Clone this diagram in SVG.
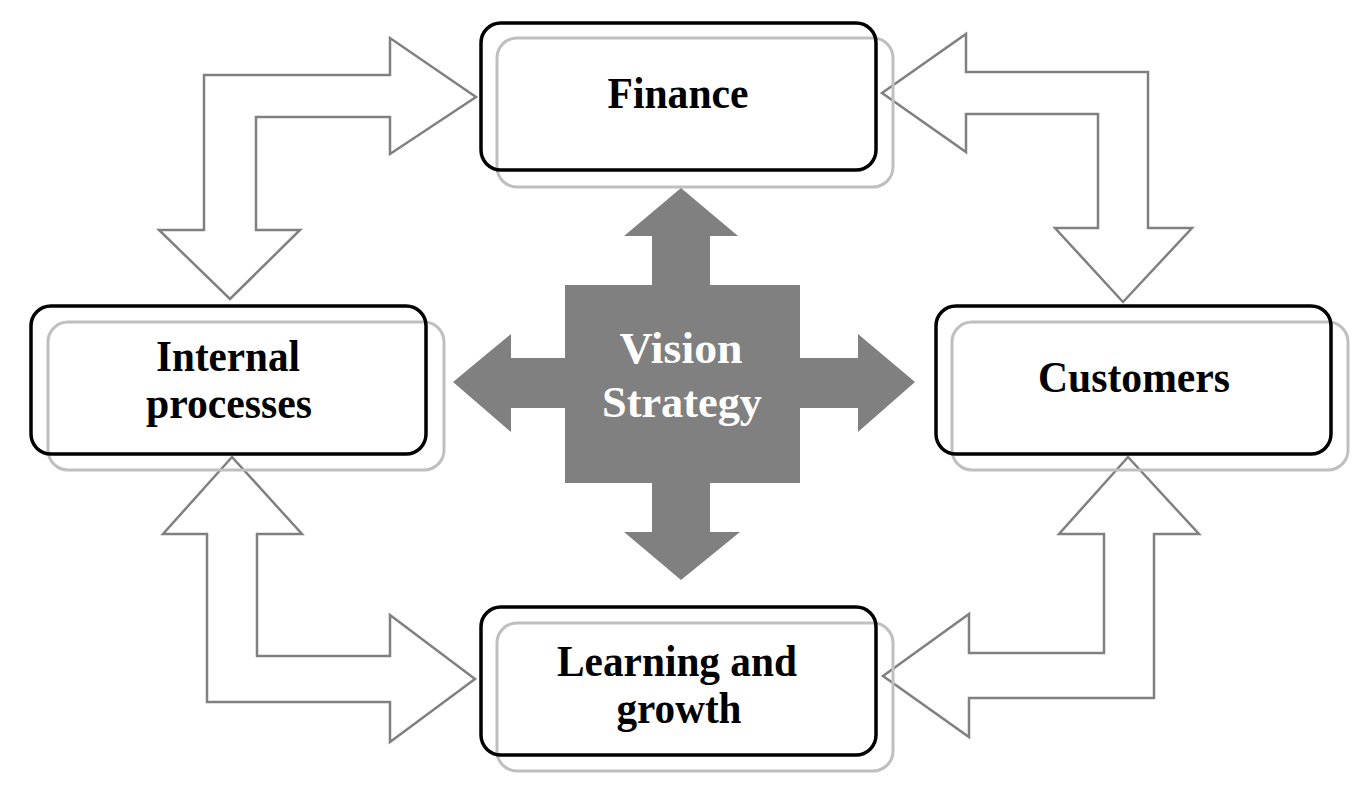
<svg xmlns="http://www.w3.org/2000/svg" width="1361" height="787" viewBox="0 0 1361 787">
<style>
.shadow{fill:none;stroke:#bfbfbf;stroke-width:3}
.box{fill:none;stroke:#000;stroke-width:3.5}
.lbl{font-family:"Liberation Serif","Times New Roman",serif;font-weight:bold;font-size:45px;fill:#000;text-anchor:middle}
.hollow{fill:none;stroke:#808080;stroke-width:2.5;stroke-linejoin:miter}
.wlbl{fill:#fff}
</style>
<rect width="1361" height="787" fill="#fff"/>
<g id="connectors">
<polygon class="hollow" points="204,75 390,75 390,38 476,97 390,154 390,117 256,117 256,230 300,230 230,299 159,230 204,230"/>
<polygon class="hollow" points="882,93 966,34 966,72 1148,72 1148,228 1192,228 1123,302 1055,228 1098,228 1098,114 966,114 966,152"/>
<polygon class="hollow" points="232,457 302,534 257,534 257,656 390,656 390,615 475,679 390,742 390,702 207,702 207,534 163,534"/>
<polygon class="hollow" points="1128,457 1199,534 1154,534 1154,698 969,698 969,737 883,676 969,614 969,653 1104,653 1104,534 1059,534"/>
</g>
<g id="finance">
<rect class="shadow" x="497" y="38" width="396" height="149" rx="20"/>
<rect class="box" x="481" y="23" width="395" height="147" rx="20"/>
<text class="lbl" x="678" y="108" textLength="141" lengthAdjust="spacingAndGlyphs">Finance</text>
</g>
<g id="internal">
<rect class="shadow" x="48" y="322" width="396" height="148" rx="20"/>
<rect class="box" x="31" y="306" width="395" height="148" rx="20"/>
<text class="lbl" x="228" y="371" textLength="144" lengthAdjust="spacingAndGlyphs">Internal</text>
<text class="lbl" x="229" y="418" textLength="166" lengthAdjust="spacingAndGlyphs">processes</text>
</g>
<g id="customers">
<rect class="shadow" x="952" y="322" width="396" height="148" rx="20"/>
<rect class="box" x="936" y="306" width="395" height="148" rx="20"/>
<text class="lbl" x="1134" y="392" textLength="192" lengthAdjust="spacingAndGlyphs">Customers</text>
</g>
<g id="learning">
<rect class="shadow" x="497" y="623" width="396" height="148" rx="20"/>
<rect class="box" x="481" y="607" width="395" height="148" rx="20"/>
<text class="lbl" x="677" y="676" textLength="240" lengthAdjust="spacingAndGlyphs">Learning and</text>
<text class="lbl" x="679" y="723" textLength="125" lengthAdjust="spacingAndGlyphs">growth</text>
</g>
<g id="vision">
<path fill="#808080" d="M681,188 L738,236 L710,236 L710,285 L800,285 L800,358 L858,358 L858,334 L915,382 L858,432 L858,408 L800,408 L800,483 L710,483 L710,532 L740,532 L681,580 L624,532 L652,532 L652,483 L565,483 L565,408 L511,408 L511,432 L453,382 L511,334 L511,358 L565,358 L565,285 L652,285 L652,236 L624,236 Z"/>
<text class="lbl wlbl" x="681" y="363" textLength="123" lengthAdjust="spacingAndGlyphs">Vision</text>
<text class="lbl wlbl" x="682" y="417" textLength="160" lengthAdjust="spacingAndGlyphs">Strategy</text>
</g>
</svg>
